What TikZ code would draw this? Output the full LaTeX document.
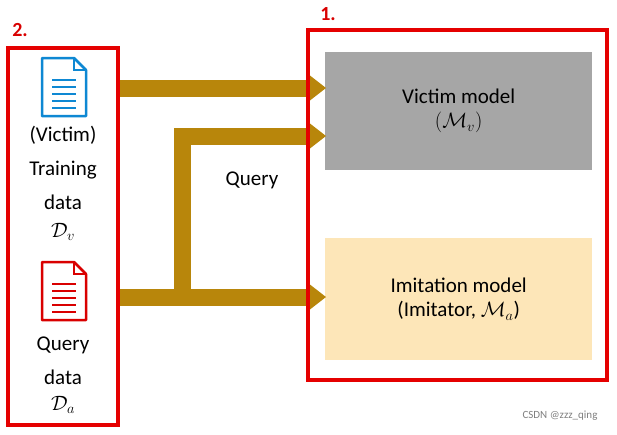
\documentclass[tikz,border=0pt]{standalone}
\usepackage{fontspec}
\setmainfont{Carlito}
\usepackage{amsmath}
\begin{document}
\begin{tikzpicture}[x=1pt,y=-1pt,
  redbox/.style={draw=red!90!black,line width=4.5pt},
  pipe/.style={draw=gold,line width=17pt},
  txt/.style={font=\fontsize{21}{24}\selectfont,align=center}]
\definecolor{gold}{HTML}{B8860B}
\useasboundingbox (0,0) rectangle (617,434);
\fill[white] (0,0) rectangle (617,434);
% right box contents
\node[fill=gray!70,minimum width=267pt,minimum height=118pt,anchor=north west,inner sep=0] (victim) at (325,52) {};
\node[txt] at (victim.center) {Victim model\\$(\mathcal{M}_v)$};
\node[fill=yellow!30!orange!25,minimum width=267pt,minimum height=122pt,anchor=north west,inner sep=0] (imit) at (325,238) {};
\node[txt] at (imit.center) {Imitation model\\(Imitator, $\mathcal{M}_a$)};
% pipes
\coordinate (a1) at (118,88); \coordinate (a2) at (308,88);
\coordinate (b1) at (118,297); \coordinate (b2) at (308,297);
\coordinate (j) at (182,297); \coordinate (c) at (182,136); \coordinate (c2) at (308,136);
\draw[pipe] (a1) -- (a2);
\draw[pipe] (b1) -- (b2);
\draw[pipe,line join=miter] (j) -- (c) -- (c2);
\foreach \p in {a2,b2,c2}{\fill[gold] ([yshift=-14pt]\p) -- ([xshift=18pt]\p) -- ([yshift=14pt]\p) -- cycle;}
\node[txt] (q) at (252,180) {Query};
% boxes
\draw[redbox] (8,48) rectangle (118,425);
\draw[redbox] (308,30) rectangle (607,380);
\node[text=red!85!black,font=\fontsize{20}{24}\selectfont\bfseries] (n2) at (20,30) {2.};
\node[text=red!85!black,font=\fontsize{20}{24}\selectfont\bfseries] (n1) at (328,14) {1.};
% icons
\foreach \y/\c in {58/cyan!70!blue,262/red!85!black}{
  \draw[\c,line width=2.5pt,fill=white,line join=round] (42,\y) -- (74,\y) -- (86,\y+12) -- (86,\y+58) -- (42,\y+58) -- cycle;
  \draw[\c,line width=2pt] (74,\y) -- (74,\y+12) -- (86,\y+12);
  \foreach \k in {0,1,2,3,4}{\draw[\c,line width=2.5pt] (52,\y+22+\k*7) -- (76,\y+22+\k*7);}
}
\node[txt] (t1) at (63,135) {(Victim)};
\node[txt] (t2) at (63,170) {Training};
\node[txt] (t3) at (63,202) {data};
\node[txt] (t4) at (63,232) {$\mathcal{D}_v$};
\node[txt] (t5) at (63,345) {Query};
\node[txt] (t6) at (63,377) {data};
\node[txt] (t7) at (63,405) {$\mathcal{D}_a$};
\node[text=gray,font=\fontsize{11}{12}\selectfont] (wm) at (560,416) {CSDN @zzz\_qing};
\end{tikzpicture}
\end{document}
